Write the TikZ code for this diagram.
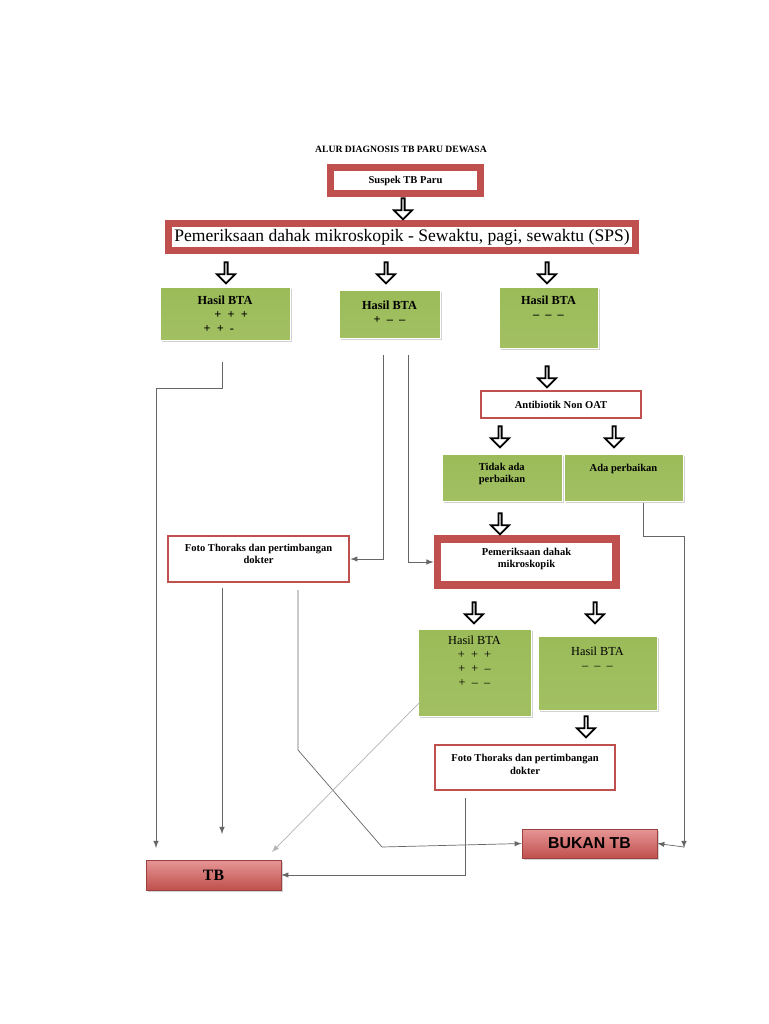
\documentclass[tikz,border=0pt]{standalone}
\usepackage{fontspec}
\setmainfont{Liberation Serif}
\newfontfamily\sansf{Liberation Sans}
\usetikzlibrary{shapes.arrows,shadows}
\definecolor{boxred}{RGB}{192,80,77}
\definecolor{boxgreen}{RGB}{155,187,89}
\definecolor{lightgreen}{RGB}{200,220,150}
\definecolor{lightred}{RGB}{230,150,150}

\tikzset{
  redbox/.style={draw=boxred, line width=4pt, fill=white, align=center, font=\bfseries\fontsize{6}{7}\selectfont},
  thinred/.style={redbox, line width=1.6pt},
  greenbox/.style={draw=white, thin, top color=boxgreen, bottom color=boxgreen!85!lightgreen, drop shadow={shadow xshift=1pt, shadow yshift=-1pt, fill=gray!70}},
  bta/.style={align=center, font=\bfseries\fontsize{7}{8}\selectfont, inner sep=1pt},
  endbox/.style={draw=boxred!80!black, thin, top color=lightred, bottom color=boxred, drop shadow={shadow xshift=1pt, shadow yshift=-1pt, fill=gray!70}, font=\bfseries},
  hollow/.style={single arrow, draw=black, fill=white, line width=1pt, rotate=270, minimum height=0.42cm, minimum width=0.36cm, single arrow head extend=0.08cm, inner sep=0pt},
  link/.style={draw=gray!80!black, line width=0.4pt},
  tip/.style={link, -latex}
}

\begin{document}
\begin{tikzpicture}[x=0.02cm, y=-0.02cm]
  \useasboundingbox (0,0) rectangle (768,1024);

  \node[font=\bfseries\fontsize{5.5}{6}\selectfont] (title) at (401,149) {ALUR DIAGNOSIS TB PARU DEWASA};

  % top of the flow
  \node[redbox, minimum width=3.0cm, minimum height=0.52cm] (suspek) at (405.5,180.5) {Suspek TB Paru};
  \node[redbox, minimum width=8.85cm, minimum height=0.50cm, font=\fontsize{10}{11}\selectfont] (sps) at (402,237)
    {Pemeriksaan dahak mikroskopik - Sewaktu, pagi, sewaktu (SPS)};

  % first results
  \node[greenbox, minimum width=2.6cm, minimum height=1.06cm] (hasilA) at (225,313.5) {};
  \node[bta, below] (btaA) at ([yshift=-4pt]hasilA.north) {Hasil BTA\\\hspace*{1em}+\ \ +\ \ +\\+\ \ +\ \ -\hspace*{1em}};
  \node[greenbox, minimum width=2.02cm, minimum height=0.96cm] (hasilB) at (389.5,314) {};
  \node[bta, below] (btaB) at ([yshift=-5pt]hasilB.north) {Hasil BTA\\+\ \ --\ \ --};
  \node[greenbox, minimum width=1.98cm, minimum height=1.22cm] (hasilC) at (548.5,317.5) {};
  \node[bta, below] (btaC) at ([yshift=-4pt]hasilC.north) {Hasil BTA\\--\ \ --\ \ --};

  \node[thinred, minimum width=3.2cm, minimum height=0.54cm] (anti) at (561,404.5) {Antibiotik Non OAT};
  \node[greenbox, minimum width=2.4cm, minimum height=0.94cm] (tidak) at (502,477.5) {};
  \node[bta, below, font=\bfseries\fontsize{6}{7}\selectfont, align=left] (tidakT) at ([yshift=-4pt]tidak.north) {Tidak ada\\perbaikan};
  \node[greenbox, minimum width=2.38cm, minimum height=0.94cm] (ada) at (623.5,477.5) {};
  \node[bta, below, font=\bfseries\fontsize{6}{7}\selectfont] (adaT) at ([yshift=-5pt]ada.north) {Ada perbaikan};

  % second examination
  \node[thinred, minimum width=3.62cm, minimum height=0.92cm] (foto1) at (258.5,559) {};
  \node[bta, below, font=\bfseries\fontsize{6}{7}\selectfont] (foto1T) at ([yshift=-4pt]foto1.north) {Foto Thoraks dan pertimbangan\\dokter};
  \node[redbox, minimum width=3.58cm, minimum height=0.92cm] (pem) at (526.5,562) {};
  \node[bta, below, font=\bfseries\fontsize{6}{7}\selectfont] (pemT) at ([yshift=-6pt]pem.north) {Pemeriksaan dahak\\mikroskopik};

  \node[greenbox, minimum width=2.26cm, minimum height=1.74cm] (hasilD) at (474.5,672.5) {};
  \node[bta, below, font=\fontsize{7}{8}\selectfont] (btaD) at ([yshift=-3pt]hasilD.north) {Hasil BTA\\+\ \ +\ \ +\\+\ \ +\ \ --\\+\ \ --\ \ --};
  \node[greenbox, minimum width=2.38cm, minimum height=1.48cm] (hasilE) at (597.5,673) {};
  \node[bta, below, font=\fontsize{7}{8}\selectfont] (btaE) at ([yshift=-5pt]hasilE.north) {Hasil BTA\\--\ \ --\ \ --};

  \node[thinred, minimum width=3.6cm, minimum height=0.9cm] (foto2) at (525,767.5) {};
  \node[bta, below, font=\bfseries\fontsize{6}{7}\selectfont] (foto2T) at ([yshift=-5pt]foto2.north) {Foto Thoraks dan pertimbangan\\dokter};

  % outcomes
  \node[endbox, minimum width=2.7cm, minimum height=0.58cm, font=\sansf\bfseries\fontsize{9}{10}\selectfont] (bukan) at (589.5,843.5) {BUKAN TB};
  \node[endbox, minimum width=2.7cm, minimum height=0.6cm, font=\bfseries\fontsize{9}{10}\selectfont] (tb) at (213.5,875) {TB};

  % hollow arrows
  \node[hollow] (a1) at (403,208) {};
  \node[hollow] (a2) at (226,272) {};
  \node[hollow] (a3) at (386,272) {};
  \node[hollow] (a4) at (547,272) {};
  \node[hollow] (a5) at (547,376) {};
  \node[hollow] (a6) at (500,436) {};
  \node[hollow] (a7) at (614,436) {};
  \node[hollow] (a8) at (500,523) {};
  \node[hollow] (a9) at (474,612) {};
  \node[hollow] (a10) at (595,612) {};
  \node[hollow] (a11) at (586,726) {};

  % thin connectors
  \coordinate (pA) at (222,362);
  \coordinate (pB1) at (383,355);
  \coordinate (pB2) at (408,355);
  \coordinate (pF1) at (222,588);
  \coordinate (pF2) at (298,590);
  \coordinate (pD) at (420,702);
  \coordinate (pG) at (465,798);
  \coordinate (pH) at (643,503);

  \draw[tip] (pA) -- (222,388) -- (156,388) -- (156,848);
  \draw[tip] (pB1) |- (foto1.east);
  \draw[tip] (pB2) |- (pem.west);
  \draw[tip] (pF1) -- (222,834);
  \draw[tip] (pF2) -- (298,750) -- (382,847) -- (bukan.west);
  \draw[tip, draw=gray!60] (pD) -- (272,852);
  \draw[tip] (pG) |- (tb.east);
  \draw[tip] (pH) -- (643,536) -- (684,536) -- (684,848);
  \draw[tip] (684,847) -- (bukan.east);
\end{tikzpicture}
\end{document}
